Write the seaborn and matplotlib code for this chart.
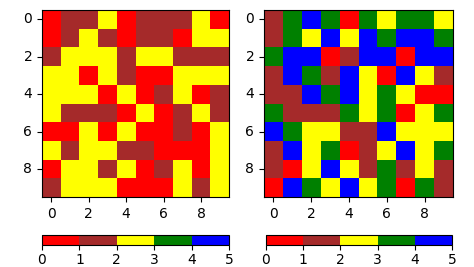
import numpy as np
import matplotlib
matplotlib.use("Agg")
import matplotlib.pyplot as plt
from matplotlib.colors import ListedColormap
import seaborn as sns

# 0=red, 1=brown, 2=yellow, 3=green, 4=blue
colors = ["red", "brown", "yellow", "green", "blue"]

left_grid = [
    [0, 1, 1, 2, 0, 1, 1, 1, 2, 0],
    [0, 1, 2, 1, 0, 1, 1, 0, 2, 2],
    [1, 2, 2, 2, 1, 2, 2, 1, 1, 1],
    [2, 2, 0, 2, 1, 0, 0, 2, 2, 2],
    [2, 2, 2, 0, 2, 0, 1, 2, 0, 1],
    [2, 1, 1, 1, 0, 2, 0, 1, 2, 1],
    [0, 0, 2, 0, 2, 0, 0, 1, 0, 2],
    [2, 1, 2, 2, 1, 1, 0, 0, 0, 2],
    [0, 2, 2, 1, 2, 0, 1, 2, 0, 2],
    [1, 2, 2, 2, 0, 0, 0, 2, 1, 2],
]

right_grid = [
    [1, 3, 4, 3, 0, 3, 2, 3, 3, 2],
    [1, 3, 2, 4, 2, 4, 3, 4, 4, 3],
    [3, 4, 4, 0, 1, 4, 4, 0, 4, 4],
    [1, 4, 3, 1, 4, 2, 0, 4, 2, 1],
    [1, 1, 4, 3, 4, 2, 3, 2, 0, 0],
    [3, 1, 1, 1, 3, 2, 3, 0, 2, 3],
    [4, 3, 2, 2, 1, 1, 4, 2, 2, 2],
    [1, 4, 2, 3, 0, 1, 2, 4, 2, 3],
    [1, 0, 2, 4, 2, 1, 3, 1, 2, 1],
    [0, 4, 3, 2, 4, 2, 3, 0, 3, 1],
]

tick_pos = [0, 2, 4, 6, 8]
cbar_ticks = [0, 1, 2, 3, 4, 5]

cmap = ListedColormap(colors)

fig = plt.figure(figsize=(4.74, 2.67), dpi=100)
W, H = 474, 267
axes = [fig.add_axes([42 / W, 70 / H, 187 / W, 187 / H]),
        fig.add_axes([264 / W, 70 / H, 189 / W, 187 / H])]
caxes = [fig.add_axes([42 / W, 22 / H, 187 / W, 10 / H]),
         fig.add_axes([266 / W, 22 / H, 186 / W, 10 / H])]

for ax, cax, grid in zip(axes, caxes, [left_grid, right_grid]):
    data = np.array(grid) + 0.5
    sns.heatmap(data, ax=ax, cmap=cmap, vmin=0, vmax=5, cbar_ax=cax,
                cbar_kws={"orientation": "horizontal", "ticks": cbar_ticks})
    ax.set_xticks(np.array(tick_pos) + 0.5)
    ax.set_xticklabels([str(t) for t in tick_pos], rotation=0)
    ax.set_yticks(np.array(tick_pos) + 0.5)
    ax.set_yticklabels([str(t) for t in tick_pos], rotation=0)
    ax.tick_params(labelsize=10, length=3.5)
    for s in ax.spines.values():
        s.set_visible(True)
        s.set_linewidth(0.8)
        s.set_color("black")
    cb = ax.collections[0].colorbar
    cb.outline.set_visible(True)
    cb.outline.set_linewidth(0.8)
    cb.outline.set_edgecolor("black")
    cb.ax.tick_params(labelsize=10, length=3.5, pad=2)
    cb.set_ticklabels([str(t) for t in cbar_ticks])

fig.savefig("out.png", dpi=100)
